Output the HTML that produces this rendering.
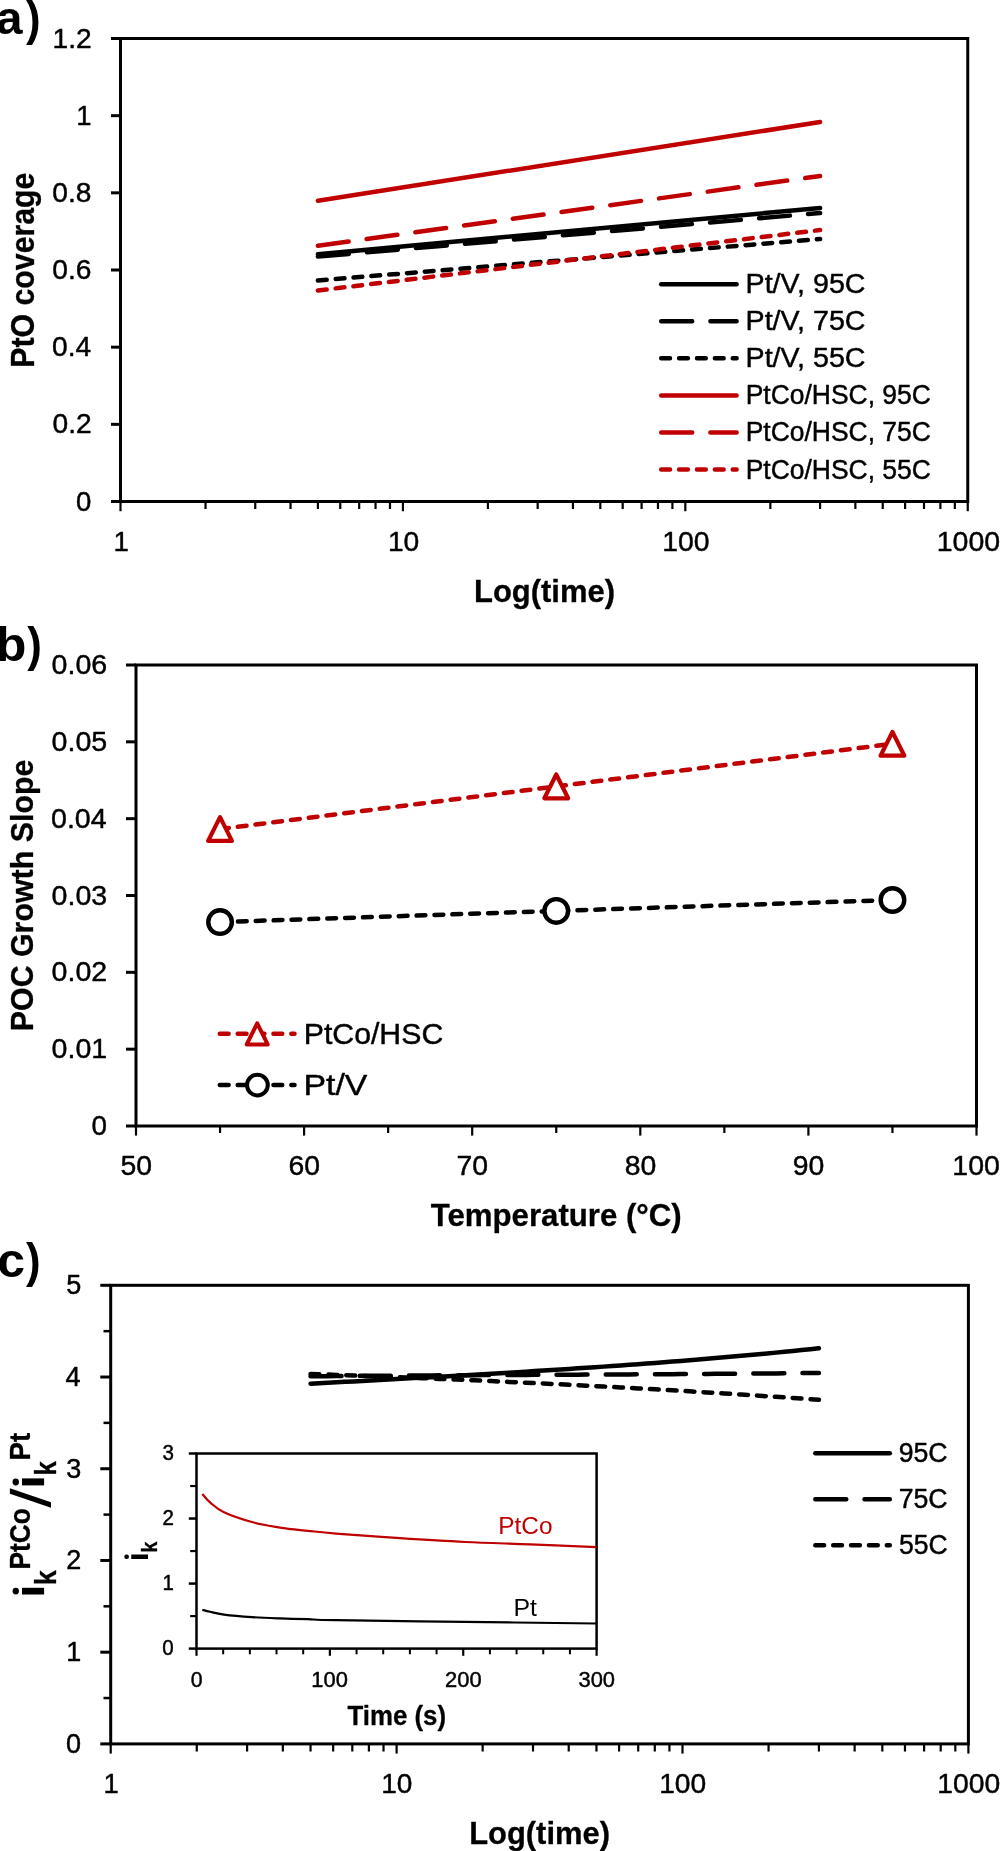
<!DOCTYPE html><html><head><meta charset="utf-8"><style>html,body{margin:0;padding:0;background:#fff;overflow:hidden}svg{display:block;will-change:transform}text{font-family:"Liberation Sans",sans-serif}</style></head><body><svg width="1000" height="1851" viewBox="0 0 1000 1851" font-family="Liberation Sans, sans-serif" font-size="100"><rect x="120.5" y="38.5" width="847.25" height="463.0" fill="none" stroke="#000" stroke-width="3"/>
<line x1="111.00" y1="501.50" x2="120.50" y2="501.50" stroke="#000" stroke-width="3" stroke-linecap="butt"/>
<line x1="111.00" y1="424.33" x2="120.50" y2="424.33" stroke="#000" stroke-width="3" stroke-linecap="butt"/>
<line x1="111.00" y1="347.17" x2="120.50" y2="347.17" stroke="#000" stroke-width="3" stroke-linecap="butt"/>
<line x1="111.00" y1="270.00" x2="120.50" y2="270.00" stroke="#000" stroke-width="3" stroke-linecap="butt"/>
<line x1="111.00" y1="192.83" x2="120.50" y2="192.83" stroke="#000" stroke-width="3" stroke-linecap="butt"/>
<line x1="111.00" y1="115.67" x2="120.50" y2="115.67" stroke="#000" stroke-width="3" stroke-linecap="butt"/>
<line x1="111.00" y1="38.50" x2="120.50" y2="38.50" stroke="#000" stroke-width="3" stroke-linecap="butt"/>
<line x1="205.52" y1="501.50" x2="205.52" y2="509.00" stroke="#000" stroke-width="2.2" stroke-linecap="butt"/>
<line x1="255.25" y1="501.50" x2="255.25" y2="509.00" stroke="#000" stroke-width="2.2" stroke-linecap="butt"/>
<line x1="290.53" y1="501.50" x2="290.53" y2="509.00" stroke="#000" stroke-width="2.2" stroke-linecap="butt"/>
<line x1="317.90" y1="501.50" x2="317.90" y2="509.00" stroke="#000" stroke-width="2.2" stroke-linecap="butt"/>
<line x1="340.26" y1="501.50" x2="340.26" y2="509.00" stroke="#000" stroke-width="2.2" stroke-linecap="butt"/>
<line x1="359.17" y1="501.50" x2="359.17" y2="509.00" stroke="#000" stroke-width="2.2" stroke-linecap="butt"/>
<line x1="375.55" y1="501.50" x2="375.55" y2="509.00" stroke="#000" stroke-width="2.2" stroke-linecap="butt"/>
<line x1="389.99" y1="501.50" x2="389.99" y2="509.00" stroke="#000" stroke-width="2.2" stroke-linecap="butt"/>
<line x1="487.93" y1="501.50" x2="487.93" y2="509.00" stroke="#000" stroke-width="2.2" stroke-linecap="butt"/>
<line x1="537.66" y1="501.50" x2="537.66" y2="509.00" stroke="#000" stroke-width="2.2" stroke-linecap="butt"/>
<line x1="572.95" y1="501.50" x2="572.95" y2="509.00" stroke="#000" stroke-width="2.2" stroke-linecap="butt"/>
<line x1="600.32" y1="501.50" x2="600.32" y2="509.00" stroke="#000" stroke-width="2.2" stroke-linecap="butt"/>
<line x1="622.68" y1="501.50" x2="622.68" y2="509.00" stroke="#000" stroke-width="2.2" stroke-linecap="butt"/>
<line x1="641.59" y1="501.50" x2="641.59" y2="509.00" stroke="#000" stroke-width="2.2" stroke-linecap="butt"/>
<line x1="657.96" y1="501.50" x2="657.96" y2="509.00" stroke="#000" stroke-width="2.2" stroke-linecap="butt"/>
<line x1="672.41" y1="501.50" x2="672.41" y2="509.00" stroke="#000" stroke-width="2.2" stroke-linecap="butt"/>
<line x1="770.35" y1="501.50" x2="770.35" y2="509.00" stroke="#000" stroke-width="2.2" stroke-linecap="butt"/>
<line x1="820.08" y1="501.50" x2="820.08" y2="509.00" stroke="#000" stroke-width="2.2" stroke-linecap="butt"/>
<line x1="855.37" y1="501.50" x2="855.37" y2="509.00" stroke="#000" stroke-width="2.2" stroke-linecap="butt"/>
<line x1="882.73" y1="501.50" x2="882.73" y2="509.00" stroke="#000" stroke-width="2.2" stroke-linecap="butt"/>
<line x1="905.10" y1="501.50" x2="905.10" y2="509.00" stroke="#000" stroke-width="2.2" stroke-linecap="butt"/>
<line x1="924.00" y1="501.50" x2="924.00" y2="509.00" stroke="#000" stroke-width="2.2" stroke-linecap="butt"/>
<line x1="940.38" y1="501.50" x2="940.38" y2="509.00" stroke="#000" stroke-width="2.2" stroke-linecap="butt"/>
<line x1="954.83" y1="501.50" x2="954.83" y2="509.00" stroke="#000" stroke-width="2.2" stroke-linecap="butt"/>
<line x1="120.50" y1="501.50" x2="120.50" y2="511.20" stroke="#000" stroke-width="2.2" stroke-linecap="butt"/>
<line x1="402.92" y1="501.50" x2="402.92" y2="511.20" stroke="#000" stroke-width="2.2" stroke-linecap="butt"/>
<line x1="685.33" y1="501.50" x2="685.33" y2="511.20" stroke="#000" stroke-width="2.2" stroke-linecap="butt"/>
<line x1="967.75" y1="501.50" x2="967.75" y2="511.20" stroke="#000" stroke-width="2.2" stroke-linecap="butt"/>
<path d="M317.90,254.30 L820.08,208.00" stroke="#000" stroke-width="4.5" stroke-linecap="round" stroke-linejoin="round" fill="none"/>
<path d="M317.90,256.60 L820.08,213.00" stroke="#000" stroke-width="4.5" stroke-linecap="round" stroke-linejoin="round" fill="none" stroke-dasharray="31.00 18.20"/>
<path d="M317.90,280.50 L820.08,239.00" stroke="#000" stroke-width="4.5" stroke-linecap="round" stroke-linejoin="round" fill="none" stroke-dasharray="8.80 9.08"/>
<path d="M317.90,200.70 L820.08,122.00" stroke="#c00000" stroke-width="4.5" stroke-linecap="round" stroke-linejoin="round" fill="none"/>
<path d="M317.90,245.80 L820.08,176.00" stroke="#c00000" stroke-width="4.5" stroke-linecap="round" stroke-linejoin="round" fill="none" stroke-dasharray="31.00 18.20"/>
<path d="M317.90,290.50 L820.08,230.00" stroke="#c00000" stroke-width="4.5" stroke-linecap="round" stroke-linejoin="round" fill="none" stroke-dasharray="8.80 9.08"/>
<path d="M661.2,284.20 L736.6,284.20" stroke="#000" stroke-width="4.5" stroke-linecap="round" stroke-linejoin="round" fill="none"/>
<text transform="translate(745.53,293.17) scale(0.2866,0.2755)" font-weight="normal" fill="#000" stroke="#000" stroke-width="1.60" stroke-linejoin="round">Pt/V, 95C</text>
<path d="M661.2,321.28 L736.6,321.28" stroke="#000" stroke-width="4.5" stroke-linecap="round" stroke-linejoin="round" fill="none" stroke-dasharray="31.00 18.20"/>
<text transform="translate(745.53,330.25) scale(0.2866,0.2755)" font-weight="normal" fill="#000" stroke="#000" stroke-width="1.60" stroke-linejoin="round">Pt/V, 75C</text>
<path d="M661.2,358.36 L736.6,358.36" stroke="#000" stroke-width="4.5" stroke-linecap="round" stroke-linejoin="round" fill="none" stroke-dasharray="8.80 9.08"/>
<text transform="translate(745.53,367.33) scale(0.2866,0.2755)" font-weight="normal" fill="#000" stroke="#000" stroke-width="1.60" stroke-linejoin="round">Pt/V, 55C</text>
<path d="M661.2,395.44 L736.6,395.44" stroke="#c00000" stroke-width="4.5" stroke-linecap="round" stroke-linejoin="round" fill="none"/>
<text transform="translate(745.71,404.41) scale(0.2645,0.2755)" font-weight="normal" fill="#000" stroke="#000" stroke-width="1.67" stroke-linejoin="round">PtCo/HSC, 95C</text>
<path d="M661.2,432.52 L736.6,432.52" stroke="#c00000" stroke-width="4.5" stroke-linecap="round" stroke-linejoin="round" fill="none" stroke-dasharray="31.00 18.20"/>
<text transform="translate(745.71,441.49) scale(0.2645,0.2755)" font-weight="normal" fill="#000" stroke="#000" stroke-width="1.67" stroke-linejoin="round">PtCo/HSC, 75C</text>
<path d="M661.2,469.60 L736.6,469.60" stroke="#c00000" stroke-width="4.5" stroke-linecap="round" stroke-linejoin="round" fill="none" stroke-dasharray="8.80 9.08"/>
<text transform="translate(745.71,478.57) scale(0.2645,0.2755)" font-weight="normal" fill="#000" stroke="#000" stroke-width="1.67" stroke-linejoin="round">PtCo/HSC, 55C</text>
<rect x="136.0" y="665.0" width="840.5" height="461.0" fill="none" stroke="#000" stroke-width="3"/>
<line x1="126.00" y1="1126.00" x2="136.00" y2="1126.00" stroke="#000" stroke-width="3" stroke-linecap="butt"/>
<line x1="126.00" y1="1049.17" x2="136.00" y2="1049.17" stroke="#000" stroke-width="3" stroke-linecap="butt"/>
<line x1="126.00" y1="972.33" x2="136.00" y2="972.33" stroke="#000" stroke-width="3" stroke-linecap="butt"/>
<line x1="126.00" y1="895.50" x2="136.00" y2="895.50" stroke="#000" stroke-width="3" stroke-linecap="butt"/>
<line x1="126.00" y1="818.67" x2="136.00" y2="818.67" stroke="#000" stroke-width="3" stroke-linecap="butt"/>
<line x1="126.00" y1="741.83" x2="136.00" y2="741.83" stroke="#000" stroke-width="3" stroke-linecap="butt"/>
<line x1="126.00" y1="665.00" x2="136.00" y2="665.00" stroke="#000" stroke-width="3" stroke-linecap="butt"/>
<line x1="136.00" y1="1126.00" x2="136.00" y2="1135.60" stroke="#000" stroke-width="2.2" stroke-linecap="butt"/>
<line x1="304.10" y1="1126.00" x2="304.10" y2="1135.60" stroke="#000" stroke-width="2.2" stroke-linecap="butt"/>
<line x1="472.20" y1="1126.00" x2="472.20" y2="1135.60" stroke="#000" stroke-width="2.2" stroke-linecap="butt"/>
<line x1="640.30" y1="1126.00" x2="640.30" y2="1135.60" stroke="#000" stroke-width="2.2" stroke-linecap="butt"/>
<line x1="808.40" y1="1126.00" x2="808.40" y2="1135.60" stroke="#000" stroke-width="2.2" stroke-linecap="butt"/>
<line x1="976.50" y1="1126.00" x2="976.50" y2="1135.60" stroke="#000" stroke-width="2.2" stroke-linecap="butt"/>
<line x1="220.05" y1="1126.00" x2="220.05" y2="1133.00" stroke="#000" stroke-width="2.2" stroke-linecap="butt"/>
<line x1="388.15" y1="1126.00" x2="388.15" y2="1133.00" stroke="#000" stroke-width="2.2" stroke-linecap="butt"/>
<line x1="556.25" y1="1126.00" x2="556.25" y2="1133.00" stroke="#000" stroke-width="2.2" stroke-linecap="butt"/>
<line x1="724.35" y1="1126.00" x2="724.35" y2="1133.00" stroke="#000" stroke-width="2.2" stroke-linecap="butt"/>
<line x1="892.45" y1="1126.00" x2="892.45" y2="1133.00" stroke="#000" stroke-width="2.2" stroke-linecap="butt"/>
<path d="M220.05,829.00 L556.25,786.40 L892.45,743.80" stroke="#c00000" stroke-width="4.5" stroke-linecap="round" stroke-linejoin="round" fill="none" stroke-dasharray="8.80 9.08"/>
<path d="M220.05,922.10 L556.25,910.90 L892.45,900.00" stroke="#000" stroke-width="4.5" stroke-linecap="round" stroke-linejoin="round" fill="none" stroke-dasharray="8.80 9.08"/>
<path d="M220.05,817.10 L231.95,840.90 L208.15,840.90 Z" fill="#fff" stroke="#c00000" stroke-width="4.2" stroke-linejoin="round"/>
<path d="M556.25,774.50 L568.15,798.30 L544.35,798.30 Z" fill="#fff" stroke="#c00000" stroke-width="4.2" stroke-linejoin="round"/>
<path d="M892.45,731.90 L904.35,755.70 L880.55,755.70 Z" fill="#fff" stroke="#c00000" stroke-width="4.2" stroke-linejoin="round"/>
<circle cx="220.05" cy="922.10" r="11.80" fill="#fff" stroke="#000" stroke-width="4.4"/>
<circle cx="556.25" cy="910.90" r="11.80" fill="#fff" stroke="#000" stroke-width="4.4"/>
<circle cx="892.45" cy="900.00" r="11.80" fill="#fff" stroke="#000" stroke-width="4.4"/>
<path d="M219.8,1033.7 L294.5,1033.7" stroke="#c00000" stroke-width="4.5" stroke-linecap="round" stroke-linejoin="round" fill="none" stroke-dasharray="8.80 9.08"/>
<path d="M257.20,1023.40 L267.70,1044.40 L246.70,1044.40 Z" fill="#fff" stroke="#c00000" stroke-width="4" stroke-linejoin="round"/>
<path d="M219.8,1085.1 L294.5,1085.1" stroke="#000" stroke-width="4.5" stroke-linecap="round" stroke-linejoin="round" fill="none" stroke-dasharray="8.80 9.08"/>
<circle cx="257.40" cy="1085.10" r="10.40" fill="#fff" stroke="#000" stroke-width="4"/>
<text transform="translate(303.70,1043.68) scale(0.3026,0.3035)" font-weight="normal" fill="#000" stroke="#000" stroke-width="1.49" stroke-linejoin="round">PtCo/HSC</text>
<text transform="translate(303.42,1095.18) scale(0.3386,0.3035)" font-weight="normal" fill="#000" stroke="#000" stroke-width="1.40" stroke-linejoin="round">Pt/V</text>
<rect x="110.7" y="1285.3" width="857.6999999999999" height="458.60000000000014" fill="none" stroke="#000" stroke-width="3"/>
<line x1="100.30" y1="1743.90" x2="110.70" y2="1743.90" stroke="#000" stroke-width="3" stroke-linecap="butt"/>
<line x1="100.30" y1="1652.18" x2="110.70" y2="1652.18" stroke="#000" stroke-width="3" stroke-linecap="butt"/>
<line x1="100.30" y1="1560.46" x2="110.70" y2="1560.46" stroke="#000" stroke-width="3" stroke-linecap="butt"/>
<line x1="100.30" y1="1468.74" x2="110.70" y2="1468.74" stroke="#000" stroke-width="3" stroke-linecap="butt"/>
<line x1="100.30" y1="1377.02" x2="110.70" y2="1377.02" stroke="#000" stroke-width="3" stroke-linecap="butt"/>
<line x1="100.30" y1="1285.30" x2="110.70" y2="1285.30" stroke="#000" stroke-width="3" stroke-linecap="butt"/>
<line x1="103.50" y1="1698.04" x2="110.70" y2="1698.04" stroke="#000" stroke-width="2.5" stroke-linecap="butt"/>
<line x1="103.50" y1="1606.32" x2="110.70" y2="1606.32" stroke="#000" stroke-width="2.5" stroke-linecap="butt"/>
<line x1="103.50" y1="1514.60" x2="110.70" y2="1514.60" stroke="#000" stroke-width="2.5" stroke-linecap="butt"/>
<line x1="103.50" y1="1422.88" x2="110.70" y2="1422.88" stroke="#000" stroke-width="2.5" stroke-linecap="butt"/>
<line x1="103.50" y1="1331.16" x2="110.70" y2="1331.16" stroke="#000" stroke-width="2.5" stroke-linecap="butt"/>
<line x1="196.76" y1="1743.90" x2="196.76" y2="1751.50" stroke="#000" stroke-width="2.2" stroke-linecap="butt"/>
<line x1="247.11" y1="1743.90" x2="247.11" y2="1751.50" stroke="#000" stroke-width="2.2" stroke-linecap="butt"/>
<line x1="282.83" y1="1743.90" x2="282.83" y2="1751.50" stroke="#000" stroke-width="2.2" stroke-linecap="butt"/>
<line x1="310.54" y1="1743.90" x2="310.54" y2="1751.50" stroke="#000" stroke-width="2.2" stroke-linecap="butt"/>
<line x1="333.17" y1="1743.90" x2="333.17" y2="1751.50" stroke="#000" stroke-width="2.2" stroke-linecap="butt"/>
<line x1="352.31" y1="1743.90" x2="352.31" y2="1751.50" stroke="#000" stroke-width="2.2" stroke-linecap="butt"/>
<line x1="368.89" y1="1743.90" x2="368.89" y2="1751.50" stroke="#000" stroke-width="2.2" stroke-linecap="butt"/>
<line x1="383.52" y1="1743.90" x2="383.52" y2="1751.50" stroke="#000" stroke-width="2.2" stroke-linecap="butt"/>
<line x1="482.66" y1="1743.90" x2="482.66" y2="1751.50" stroke="#000" stroke-width="2.2" stroke-linecap="butt"/>
<line x1="533.01" y1="1743.90" x2="533.01" y2="1751.50" stroke="#000" stroke-width="2.2" stroke-linecap="butt"/>
<line x1="568.73" y1="1743.90" x2="568.73" y2="1751.50" stroke="#000" stroke-width="2.2" stroke-linecap="butt"/>
<line x1="596.44" y1="1743.90" x2="596.44" y2="1751.50" stroke="#000" stroke-width="2.2" stroke-linecap="butt"/>
<line x1="619.07" y1="1743.90" x2="619.07" y2="1751.50" stroke="#000" stroke-width="2.2" stroke-linecap="butt"/>
<line x1="638.21" y1="1743.90" x2="638.21" y2="1751.50" stroke="#000" stroke-width="2.2" stroke-linecap="butt"/>
<line x1="654.79" y1="1743.90" x2="654.79" y2="1751.50" stroke="#000" stroke-width="2.2" stroke-linecap="butt"/>
<line x1="669.42" y1="1743.90" x2="669.42" y2="1751.50" stroke="#000" stroke-width="2.2" stroke-linecap="butt"/>
<line x1="768.56" y1="1743.90" x2="768.56" y2="1751.50" stroke="#000" stroke-width="2.2" stroke-linecap="butt"/>
<line x1="818.91" y1="1743.90" x2="818.91" y2="1751.50" stroke="#000" stroke-width="2.2" stroke-linecap="butt"/>
<line x1="854.63" y1="1743.90" x2="854.63" y2="1751.50" stroke="#000" stroke-width="2.2" stroke-linecap="butt"/>
<line x1="882.34" y1="1743.90" x2="882.34" y2="1751.50" stroke="#000" stroke-width="2.2" stroke-linecap="butt"/>
<line x1="904.97" y1="1743.90" x2="904.97" y2="1751.50" stroke="#000" stroke-width="2.2" stroke-linecap="butt"/>
<line x1="924.11" y1="1743.90" x2="924.11" y2="1751.50" stroke="#000" stroke-width="2.2" stroke-linecap="butt"/>
<line x1="940.69" y1="1743.90" x2="940.69" y2="1751.50" stroke="#000" stroke-width="2.2" stroke-linecap="butt"/>
<line x1="955.32" y1="1743.90" x2="955.32" y2="1751.50" stroke="#000" stroke-width="2.2" stroke-linecap="butt"/>
<line x1="110.70" y1="1743.90" x2="110.70" y2="1753.60" stroke="#000" stroke-width="2.2" stroke-linecap="butt"/>
<line x1="396.60" y1="1743.90" x2="396.60" y2="1753.60" stroke="#000" stroke-width="2.2" stroke-linecap="butt"/>
<line x1="682.50" y1="1743.90" x2="682.50" y2="1753.60" stroke="#000" stroke-width="2.2" stroke-linecap="butt"/>
<line x1="968.40" y1="1743.90" x2="968.40" y2="1753.60" stroke="#000" stroke-width="2.2" stroke-linecap="butt"/>
<path d="M310.54,1383.75 L319.15,1383.28 L327.77,1382.81 L336.39,1382.34 L345.00,1381.87 L353.62,1381.40 L362.23,1380.93 L370.85,1380.46 L379.47,1379.99 L388.08,1379.52 L396.70,1379.05 L405.32,1378.57 L413.93,1378.10 L422.55,1377.62 L431.17,1377.14 L439.78,1376.66 L448.40,1376.18 L457.02,1375.69 L465.63,1375.20 L474.25,1374.71 L482.87,1374.21 L491.48,1373.70 L500.10,1373.20 L508.72,1372.68 L517.33,1372.16 L525.95,1371.64 L534.56,1371.11 L543.18,1370.57 L551.80,1370.03 L560.41,1369.48 L569.03,1368.93 L577.65,1368.36 L586.26,1367.79 L594.88,1367.21 L603.50,1366.62 L612.11,1366.02 L620.73,1365.42 L629.35,1364.80 L637.96,1364.18 L646.58,1363.54 L655.20,1362.90 L663.81,1362.24 L672.43,1361.58 L681.04,1360.90 L689.66,1360.21 L698.28,1359.51 L706.89,1358.80 L715.51,1358.07 L724.13,1357.34 L732.74,1356.59 L741.36,1355.82 L749.98,1355.04 L758.59,1354.25 L767.21,1353.45 L775.83,1352.63 L784.44,1351.79 L793.06,1350.94 L801.68,1350.08 L810.29,1349.20 L818.91,1348.30" stroke="#000" stroke-width="4.5" stroke-linecap="round" stroke-linejoin="round" fill="none"/>
<path d="M310.54,1376.30 L319.15,1376.22 L327.77,1376.14 L336.39,1376.06 L345.00,1375.99 L353.62,1375.92 L362.23,1375.85 L370.85,1375.79 L379.47,1375.73 L388.08,1375.67 L396.70,1375.61 L405.32,1375.55 L413.93,1375.49 L422.55,1375.44 L431.17,1375.39 L439.78,1375.34 L448.40,1375.29 L457.02,1375.24 L465.63,1375.20 L474.25,1375.15 L482.87,1375.11 L491.48,1375.06 L500.10,1375.02 L508.72,1374.98 L517.33,1374.94 L525.95,1374.90 L534.56,1374.85 L543.18,1374.81 L551.80,1374.77 L560.41,1374.73 L569.03,1374.69 L577.65,1374.65 L586.26,1374.61 L594.88,1374.57 L603.50,1374.52 L612.11,1374.48 L620.73,1374.44 L629.35,1374.39 L637.96,1374.34 L646.58,1374.30 L655.20,1374.25 L663.81,1374.20 L672.43,1374.15 L681.04,1374.10 L689.66,1374.04 L698.28,1373.98 L706.89,1373.93 L715.51,1373.87 L724.13,1373.80 L732.74,1373.74 L741.36,1373.67 L749.98,1373.60 L758.59,1373.53 L767.21,1373.46 L775.83,1373.38 L784.44,1373.30 L793.06,1373.22 L801.68,1373.13 L810.29,1373.04 L818.91,1372.95" stroke="#000" stroke-width="4.5" stroke-linecap="round" stroke-linejoin="round" fill="none" stroke-dasharray="31.00 18.20"/>
<path d="M310.54,1374.01 L319.15,1374.30 L327.77,1374.60 L336.39,1374.91 L345.00,1375.22 L353.62,1375.53 L362.23,1375.84 L370.85,1376.16 L379.47,1376.49 L388.08,1376.82 L396.70,1377.15 L405.32,1377.49 L413.93,1377.83 L422.55,1378.17 L431.17,1378.52 L439.78,1378.88 L448.40,1379.23 L457.02,1379.60 L465.63,1379.97 L474.25,1380.34 L482.87,1380.72 L491.48,1381.10 L500.10,1381.49 L508.72,1381.88 L517.33,1382.27 L525.95,1382.68 L534.56,1383.08 L543.18,1383.50 L551.80,1383.91 L560.41,1384.34 L569.03,1384.77 L577.65,1385.20 L586.26,1385.64 L594.88,1386.08 L603.50,1386.54 L612.11,1386.99 L620.73,1387.45 L629.35,1387.92 L637.96,1388.40 L646.58,1388.87 L655.20,1389.36 L663.81,1389.85 L672.43,1390.35 L681.04,1390.85 L689.66,1391.36 L698.28,1391.88 L706.89,1392.40 L715.51,1392.93 L724.13,1393.47 L732.74,1394.01 L741.36,1394.56 L749.98,1395.11 L758.59,1395.67 L767.21,1396.24 L775.83,1396.82 L784.44,1397.40 L793.06,1397.99 L801.68,1398.58 L810.29,1399.18 L818.91,1399.79" stroke="#000" stroke-width="4.5" stroke-linecap="round" stroke-linejoin="round" fill="none" stroke-dasharray="8.80 9.08"/>
<path d="M815.3,1453.20 L889.8,1453.20" stroke="#000" stroke-width="4.5" stroke-linecap="round" stroke-linejoin="round" fill="none"/>
<text transform="translate(898.69,1462.38) scale(0.2670,0.2835)" font-weight="normal" fill="#000" stroke="#000" stroke-width="1.64" stroke-linejoin="round">95C</text>
<path d="M815.3,1499.20 L889.8,1499.20" stroke="#000" stroke-width="4.5" stroke-linecap="round" stroke-linejoin="round" fill="none" stroke-dasharray="31.00 18.20"/>
<text transform="translate(898.69,1508.38) scale(0.2670,0.2835)" font-weight="normal" fill="#000" stroke="#000" stroke-width="1.64" stroke-linejoin="round">75C</text>
<path d="M815.3,1545.20 L889.8,1545.20" stroke="#000" stroke-width="4.5" stroke-linecap="round" stroke-linejoin="round" fill="none" stroke-dasharray="8.80 9.08"/>
<text transform="translate(898.96,1554.38) scale(0.2654,0.2835)" font-weight="normal" fill="#000" stroke="#000" stroke-width="1.64" stroke-linejoin="round">55C</text>
<rect x="196.5" y="1453.5" width="400.1" height="195.0999999999999" fill="#fff" stroke="#000" stroke-width="2.5"/>
<line x1="188.80" y1="1648.60" x2="196.50" y2="1648.60" stroke="#000" stroke-width="2.5" stroke-linecap="butt"/>
<line x1="188.80" y1="1583.57" x2="196.50" y2="1583.57" stroke="#000" stroke-width="2.5" stroke-linecap="butt"/>
<line x1="188.80" y1="1518.53" x2="196.50" y2="1518.53" stroke="#000" stroke-width="2.5" stroke-linecap="butt"/>
<line x1="188.80" y1="1453.50" x2="196.50" y2="1453.50" stroke="#000" stroke-width="2.5" stroke-linecap="butt"/>
<line x1="190.20" y1="1616.08" x2="196.50" y2="1616.08" stroke="#000" stroke-width="2.2" stroke-linecap="butt"/>
<line x1="190.20" y1="1551.05" x2="196.50" y2="1551.05" stroke="#000" stroke-width="2.2" stroke-linecap="butt"/>
<line x1="190.20" y1="1486.02" x2="196.50" y2="1486.02" stroke="#000" stroke-width="2.2" stroke-linecap="butt"/>
<line x1="196.50" y1="1648.60" x2="196.50" y2="1655.80" stroke="#000" stroke-width="2.2" stroke-linecap="butt"/>
<line x1="329.87" y1="1648.60" x2="329.87" y2="1655.80" stroke="#000" stroke-width="2.2" stroke-linecap="butt"/>
<line x1="463.23" y1="1648.60" x2="463.23" y2="1655.80" stroke="#000" stroke-width="2.2" stroke-linecap="butt"/>
<line x1="596.60" y1="1648.60" x2="596.60" y2="1655.80" stroke="#000" stroke-width="2.2" stroke-linecap="butt"/>
<line x1="223.17" y1="1648.60" x2="223.17" y2="1654.30" stroke="#000" stroke-width="2.0" stroke-linecap="butt"/>
<line x1="249.85" y1="1648.60" x2="249.85" y2="1654.30" stroke="#000" stroke-width="2.0" stroke-linecap="butt"/>
<line x1="276.52" y1="1648.60" x2="276.52" y2="1654.30" stroke="#000" stroke-width="2.0" stroke-linecap="butt"/>
<line x1="303.19" y1="1648.60" x2="303.19" y2="1654.30" stroke="#000" stroke-width="2.0" stroke-linecap="butt"/>
<line x1="356.54" y1="1648.60" x2="356.54" y2="1654.30" stroke="#000" stroke-width="2.0" stroke-linecap="butt"/>
<line x1="383.21" y1="1648.60" x2="383.21" y2="1654.30" stroke="#000" stroke-width="2.0" stroke-linecap="butt"/>
<line x1="409.89" y1="1648.60" x2="409.89" y2="1654.30" stroke="#000" stroke-width="2.0" stroke-linecap="butt"/>
<line x1="436.56" y1="1648.60" x2="436.56" y2="1654.30" stroke="#000" stroke-width="2.0" stroke-linecap="butt"/>
<line x1="489.91" y1="1648.60" x2="489.91" y2="1654.30" stroke="#000" stroke-width="2.0" stroke-linecap="butt"/>
<line x1="516.58" y1="1648.60" x2="516.58" y2="1654.30" stroke="#000" stroke-width="2.0" stroke-linecap="butt"/>
<line x1="543.25" y1="1648.60" x2="543.25" y2="1654.30" stroke="#000" stroke-width="2.0" stroke-linecap="butt"/>
<line x1="569.93" y1="1648.60" x2="569.93" y2="1654.30" stroke="#000" stroke-width="2.0" stroke-linecap="butt"/>
<path d="M202.30,1494.00 C203.58,1495.40 206.38,1499.37 210.00,1502.40 C213.62,1505.43 217.00,1508.93 224.00,1512.20 C231.00,1515.47 242.67,1519.43 252.00,1522.00 C261.33,1524.57 270.67,1526.13 280.00,1527.60 C289.33,1529.07 298.67,1529.80 308.00,1530.80 C317.33,1531.80 320.67,1532.37 336.00,1533.60 C351.33,1534.83 378.50,1536.80 400.00,1538.20 C421.50,1539.60 443.33,1540.97 465.00,1542.00 C486.67,1543.03 508.07,1543.55 530.00,1544.40 C551.93,1545.25 585.50,1546.65 596.60,1547.10" stroke="#c00000" stroke-width="2.2" stroke-linecap="butt" stroke-linejoin="round" fill="none"/>
<path d="M202.30,1609.70 C203.58,1610.05 206.38,1610.98 210.00,1611.80 C213.62,1612.62 217.00,1613.72 224.00,1614.60 C231.00,1615.48 242.67,1616.47 252.00,1617.10 C261.33,1617.73 270.67,1618.05 280.00,1618.40 C289.33,1618.75 298.67,1618.90 308.00,1619.20 C317.33,1619.50 309.83,1619.75 336.00,1620.20 C362.17,1620.65 421.57,1621.35 465.00,1621.90 C508.43,1622.45 574.67,1623.23 596.60,1623.50" stroke="#000" stroke-width="2.2" stroke-linecap="butt" stroke-linejoin="round" fill="none"/>
<text transform="translate(498.25,1533.80) scale(0.2443,0.2480)" font-weight="normal" fill="#c00000">PtCo</text>
<text transform="translate(513.41,1616.10) scale(0.2488,0.2420)" font-weight="normal" fill="#000">Pt</text>
<text transform="translate(75.94,510.57) scale(0.2756,0.2836)" font-weight="normal" fill="#000" stroke="#000" stroke-width="1.61" stroke-linejoin="round">0</text>
<text transform="translate(52.55,433.41) scale(0.2815,0.2836)" font-weight="normal" fill="#000" stroke="#000" stroke-width="1.59" stroke-linejoin="round">0.2</text>
<text transform="translate(51.98,356.24) scale(0.2816,0.2836)" font-weight="normal" fill="#000" stroke="#000" stroke-width="1.59" stroke-linejoin="round">0.4</text>
<text transform="translate(52.26,279.07) scale(0.2816,0.2836)" font-weight="normal" fill="#000" stroke="#000" stroke-width="1.59" stroke-linejoin="round">0.6</text>
<text transform="translate(52.26,201.91) scale(0.2816,0.2836)" font-weight="normal" fill="#000" stroke="#000" stroke-width="1.59" stroke-linejoin="round">0.8</text>
<text transform="translate(76.27,124.74) scale(0.2745,0.2836)" font-weight="normal" fill="#000" stroke="#000" stroke-width="1.61" stroke-linejoin="round">1</text>
<text transform="translate(52.56,47.57) scale(0.2814,0.2836)" font-weight="normal" fill="#000" stroke="#000" stroke-width="1.59" stroke-linejoin="round">1.2</text>
<text transform="translate(113.54,550.98) scale(0.2765,0.2836)" font-weight="normal" fill="#000" stroke="#000" stroke-width="1.61" stroke-linejoin="round">1</text>
<text transform="translate(387.88,550.98) scale(0.2825,0.2836)" font-weight="normal" fill="#000" stroke="#000" stroke-width="1.59" stroke-linejoin="round">10</text>
<text transform="translate(662.24,550.98) scale(0.2841,0.2836)" font-weight="normal" fill="#000" stroke="#000" stroke-width="1.59" stroke-linejoin="round">100</text>
<text transform="translate(936.76,550.98) scale(0.2849,0.2836)" font-weight="normal" fill="#000" stroke="#000" stroke-width="1.58" stroke-linejoin="round">1000</text>
<text transform="translate(91.39,1135.08) scale(0.2786,0.2836)" font-weight="normal" fill="#000" stroke="#000" stroke-width="1.60" stroke-linejoin="round">0</text>
<text transform="translate(51.61,1058.24) scale(0.2856,0.2836)" font-weight="normal" fill="#000" stroke="#000" stroke-width="1.58" stroke-linejoin="round">0.01</text>
<text transform="translate(51.61,981.41) scale(0.2856,0.2836)" font-weight="normal" fill="#000" stroke="#000" stroke-width="1.58" stroke-linejoin="round">0.02</text>
<text transform="translate(51.61,904.57) scale(0.2856,0.2836)" font-weight="normal" fill="#000" stroke="#000" stroke-width="1.58" stroke-linejoin="round">0.03</text>
<text transform="translate(51.04,827.74) scale(0.2856,0.2836)" font-weight="normal" fill="#000" stroke="#000" stroke-width="1.58" stroke-linejoin="round">0.04</text>
<text transform="translate(51.61,750.91) scale(0.2856,0.2836)" font-weight="normal" fill="#000" stroke="#000" stroke-width="1.58" stroke-linejoin="round">0.05</text>
<text transform="translate(51.61,674.07) scale(0.2856,0.2836)" font-weight="normal" fill="#000" stroke="#000" stroke-width="1.58" stroke-linejoin="round">0.06</text>
<text transform="translate(120.46,1175.38) scale(0.2836,0.2836)" font-weight="normal" fill="#000" stroke="#000" stroke-width="1.59" stroke-linejoin="round">50</text>
<text transform="translate(288.42,1175.38) scale(0.2836,0.2836)" font-weight="normal" fill="#000" stroke="#000" stroke-width="1.59" stroke-linejoin="round">60</text>
<text transform="translate(456.52,1175.38) scale(0.2836,0.2836)" font-weight="normal" fill="#000" stroke="#000" stroke-width="1.59" stroke-linejoin="round">70</text>
<text transform="translate(624.76,1175.38) scale(0.2836,0.2836)" font-weight="normal" fill="#000" stroke="#000" stroke-width="1.59" stroke-linejoin="round">80</text>
<text transform="translate(792.72,1175.38) scale(0.2836,0.2836)" font-weight="normal" fill="#000" stroke="#000" stroke-width="1.59" stroke-linejoin="round">90</text>
<text transform="translate(952.32,1175.38) scale(0.2851,0.2836)" font-weight="normal" fill="#000" stroke="#000" stroke-width="1.58" stroke-linejoin="round">100</text>
<text transform="translate(65.90,1752.68) scale(0.2706,0.2836)" font-weight="normal" fill="#000" stroke="#000" stroke-width="1.62" stroke-linejoin="round">0</text>
<text transform="translate(66.23,1660.96) scale(0.2695,0.2836)" font-weight="normal" fill="#000" stroke="#000" stroke-width="1.63" stroke-linejoin="round">1</text>
<text transform="translate(66.19,1569.24) scale(0.2702,0.2836)" font-weight="normal" fill="#000" stroke="#000" stroke-width="1.63" stroke-linejoin="round">2</text>
<text transform="translate(66.18,1477.52) scale(0.2704,0.2836)" font-weight="normal" fill="#000" stroke="#000" stroke-width="1.63" stroke-linejoin="round">3</text>
<text transform="translate(65.60,1385.80) scale(0.2712,0.2836)" font-weight="normal" fill="#000" stroke="#000" stroke-width="1.62" stroke-linejoin="round">4</text>
<text transform="translate(66.18,1294.08) scale(0.2704,0.2836)" font-weight="normal" fill="#000" stroke="#000" stroke-width="1.63" stroke-linejoin="round">5</text>
<text transform="translate(103.40,1793.28) scale(0.2745,0.2836)" font-weight="normal" fill="#000" stroke="#000" stroke-width="1.61" stroke-linejoin="round">1</text>
<text transform="translate(381.27,1793.28) scale(0.2805,0.2836)" font-weight="normal" fill="#000" stroke="#000" stroke-width="1.60" stroke-linejoin="round">10</text>
<text transform="translate(659.18,1793.28) scale(0.2821,0.2836)" font-weight="normal" fill="#000" stroke="#000" stroke-width="1.59" stroke-linejoin="round">100</text>
<text transform="translate(937.24,1793.28) scale(0.2829,0.2836)" font-weight="normal" fill="#000" stroke="#000" stroke-width="1.59" stroke-linejoin="round">1000</text>
<text transform="translate(162.18,1655.38) scale(0.2056,0.2156)" font-weight="normal" fill="#000" stroke="#000" stroke-width="2.14" stroke-linejoin="round">0</text>
<text transform="translate(162.44,1590.34) scale(0.2045,0.2156)" font-weight="normal" fill="#000" stroke="#000" stroke-width="2.14" stroke-linejoin="round">1</text>
<text transform="translate(162.41,1525.31) scale(0.2052,0.2156)" font-weight="normal" fill="#000" stroke="#000" stroke-width="2.14" stroke-linejoin="round">2</text>
<text transform="translate(162.40,1460.28) scale(0.2054,0.2156)" font-weight="normal" fill="#000" stroke="#000" stroke-width="2.14" stroke-linejoin="round">3</text>
<text transform="translate(190.75,1686.98) scale(0.2126,0.2186)" font-weight="normal" fill="#000" stroke="#000" stroke-width="2.09" stroke-linejoin="round">0</text>
<text transform="translate(311.33,1686.98) scale(0.2191,0.2186)" font-weight="normal" fill="#000" stroke="#000" stroke-width="2.06" stroke-linejoin="round">100</text>
<text transform="translate(445.02,1686.98) scale(0.2192,0.2186)" font-weight="normal" fill="#000" stroke="#000" stroke-width="2.06" stroke-linejoin="round">200</text>
<text transform="translate(578.50,1686.98) scale(0.2192,0.2186)" font-weight="normal" fill="#000" stroke="#000" stroke-width="2.06" stroke-linejoin="round">300</text>
<text transform="translate(473.98,601.95) scale(0.3099,0.3197)" font-weight="bold" fill="#000" stroke="#000" stroke-width="0.95" stroke-linejoin="round">Log(time)</text>
<text transform="translate(469.19,1844.05) scale(0.3092,0.3197)" font-weight="bold" fill="#000" stroke="#000" stroke-width="0.95" stroke-linejoin="round">Log(time)</text>
<text transform="translate(430.74,1226.35) scale(0.3120,0.3177)" font-weight="bold" fill="#000" stroke="#000" stroke-width="0.95" stroke-linejoin="round">Temperature (°C)</text>
<text transform="translate(347.49,1725.25) scale(0.2585,0.2707)" font-weight="bold" fill="#000" stroke="#000" stroke-width="1.13" stroke-linejoin="round">Time (s)</text>
<text transform="translate(34.05,367.72) rotate(-90) scale(0.3028,0.3267)" font-weight="bold" fill="#000" stroke="#000" stroke-width="0.95" stroke-linejoin="round">PtO coverage</text>
<text transform="translate(32.85,1031.23) rotate(-90) scale(0.3037,0.3227)" font-weight="bold" fill="#000" stroke="#000" stroke-width="0.96" stroke-linejoin="round">POC Growth Slope</text>
<text transform="translate(-3.93,34.33) scale(0.4774,0.4691)" font-weight="bold" fill="#000">a</text>
<text transform="translate(26.10,34.78) scale(0.4393,0.4723)" font-weight="bold" fill="#000">)</text>
<text transform="translate(-4.31,661.20) scale(0.5020,0.4726)" font-weight="bold" fill="#000">b</text>
<text transform="translate(27.30,660.58) scale(0.4393,0.4723)" font-weight="bold" fill="#000">)</text>
<text transform="translate(-2.80,1277.13) scale(0.5000,0.4745)" font-weight="bold" fill="#000">c</text>
<text transform="translate(26.10,1276.89) scale(0.4393,0.4766)" font-weight="bold" fill="#000">)</text>
<rect x="124.25" y="1554.5" width="4.75" height="4.50" rx="2.25" ry="2.25" fill="#000"/>
<rect x="131.25" y="1554.5" width="16.75" height="4.50" fill="#000"/>
<text transform="translate(156.60,1552.76) rotate(-90) scale(0.2021,0.2185)" font-weight="bold" fill="#000" stroke="#000" stroke-width="1.43" stroke-linejoin="round">k</text>
<rect x="12.6" y="1587.8" width="6.30" height="6.70" rx="3.15" ry="3.15" fill="#000"/>
<rect x="22.0" y="1587.8" width="22.10" height="6.70" fill="#000"/>
<text transform="translate(55.85,1585.35) rotate(-90) scale(0.2708,0.2986)" font-weight="bold" fill="#000" stroke="#000" stroke-width="1.05" stroke-linejoin="round">k</text>
<text transform="translate(29.95,1569.59) rotate(-90) scale(0.2635,0.2937)" font-weight="bold" fill="#000" stroke="#000" stroke-width="1.08" stroke-linejoin="round">PtCo</text>
<path d="M9.9,1488.2 L51,1502.3 L51,1507.7 L9.9,1493.7 Z" fill="#000"/>
<rect x="12.6" y="1478.4" width="6.30" height="7.00" rx="3.15" ry="3.15" fill="#000"/>
<rect x="22.0" y="1478.4" width="22.10" height="7.00" fill="#000"/>
<text transform="translate(55.85,1475.54) rotate(-90) scale(0.2562,0.2986)" font-weight="bold" fill="#000" stroke="#000" stroke-width="1.08" stroke-linejoin="round">k</text>
<text transform="translate(29.95,1460.59) rotate(-90) scale(0.2772,0.2877)" font-weight="bold" fill="#000" stroke="#000" stroke-width="1.06" stroke-linejoin="round">Pt</text></svg></body></html>
